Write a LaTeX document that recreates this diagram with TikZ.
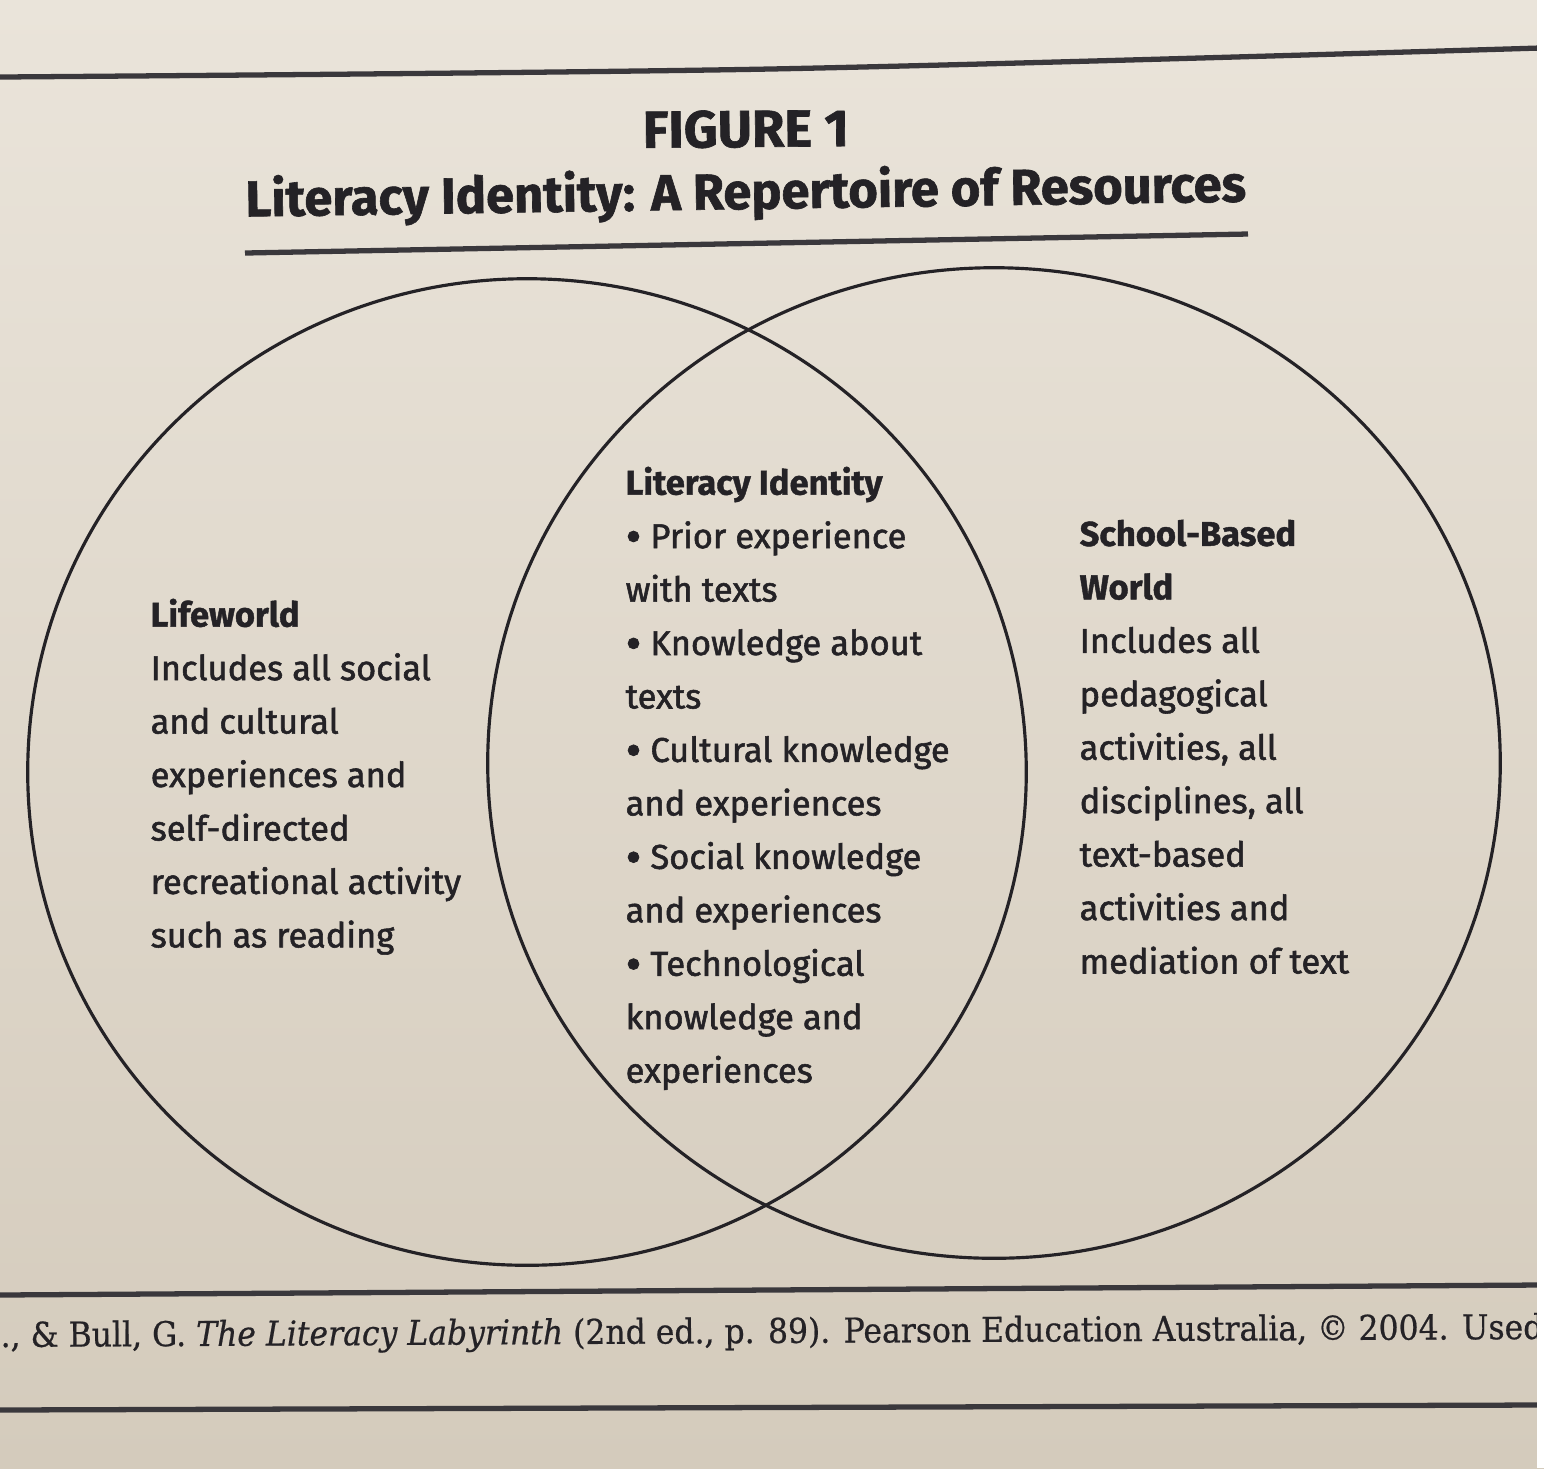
\documentclass[tikz,border=0pt]{standalone}
\usepackage{fontspec}
\usepackage{graphicx}
\usetikzlibrary{shapes.geometric}
\setmainfont{Fira Sans}
\newfontfamily\bodyfont[FakeBold=1.6]{Fira Sans}
\newfontfamily\headfont[FakeBold=1.2]{Fira Sans Bold}
\newfontfamily\capfont[FakeBold=0.6]{DejaVu Serif}
\newcommand{\bul}{\raisebox{-0.14em}{\scalebox{1.4}{\textbullet}}\ }
\definecolor{ink}{RGB}{36,34,38}
\definecolor{papertop}{RGB}{234,228,218}
\definecolor{paperbot}{RGB}{212,203,188}
\tikzset{
  venn/.style={draw=ink, line width=0.9pt, ellipse, inner sep=0},
  rulel/.style={draw=ink!90, line width=1.5pt},
  body/.style={anchor=north west, align=left, text=ink, inner sep=0,
    font=\bodyfont\fontsize{9.8}{15.2}\selectfont},
  ttl/.style={text=ink, inner sep=0, anchor=base},
}
\begin{document}
\begin{tikzpicture}[x=0.01cm,y=-0.01cm]
\useasboundingbox (0,0) rectangle (1544,1468);
\shade[top color=papertop,bottom color=paperbot] (0,0) rectangle (1544,1468);

% rules
\draw[rulel] plot[smooth] coordinates {(0,77) (770,69) (1540,48)};
\draw[rulel] (245,253) -- (1248,234);
\draw[rulel] (0,1295) -- (1540,1285);
\draw[rulel] (0,1410) -- (1540,1405);

% title
\node[ttl, rotate=0.5] (fig) at (746,147) {\resizebox{2.06cm}{0.37cm}{\headfont FIGURE 1}};
\node[ttl, rotate=0.86] (title) at (746,209) {\resizebox{10.0cm}{0.41cm}{\headfont Literacy Identity: A Repertoire of Resources}};

% circles
\node[venn, minimum width=9.98cm, minimum height=9.86cm] (life) at (527,772) {};
\node[venn, minimum width=10.12cm, minimum height=9.90cm] (school) at (994,763) {};

% texts
\node[body] (lwtext) at (150,598) {{\headfont Lifeworld}\\Includes all social\\and cultural\\experiences and\\self-directed\\recreational activity\\such as reading};
\node[body] (littext) at (625,466) {{\headfont Literacy Identity}\\\bul Prior experience\\with texts\\\bul Knowledge about\\texts\\\bul Cultural knowledge\\and experiences\\\bul Social knowledge\\and experiences\\\bul Technological\\knowledge and\\experiences};
\node[body] (sbtext) at (1079,519) {{\headfont School-Based}\\{\headfont World}\\Includes all\\pedagogical\\activities, all\\disciplines, all\\text-based\\activities and\\mediation of text};

% caption
\node[anchor=base west, inner sep=0, text=ink, rotate=0.3] (cap) at (0,1347) {\resizebox{15.42cm}{0.26cm}{\capfont ., \& Bull, G. \textit{The Literacy Labyrinth} (2nd ed., p. 89). Pearson Education Australia, © 2004. Used}};

\fill[white] (1537,0) rectangle (1544,1468);
\end{tikzpicture}
\end{document}
